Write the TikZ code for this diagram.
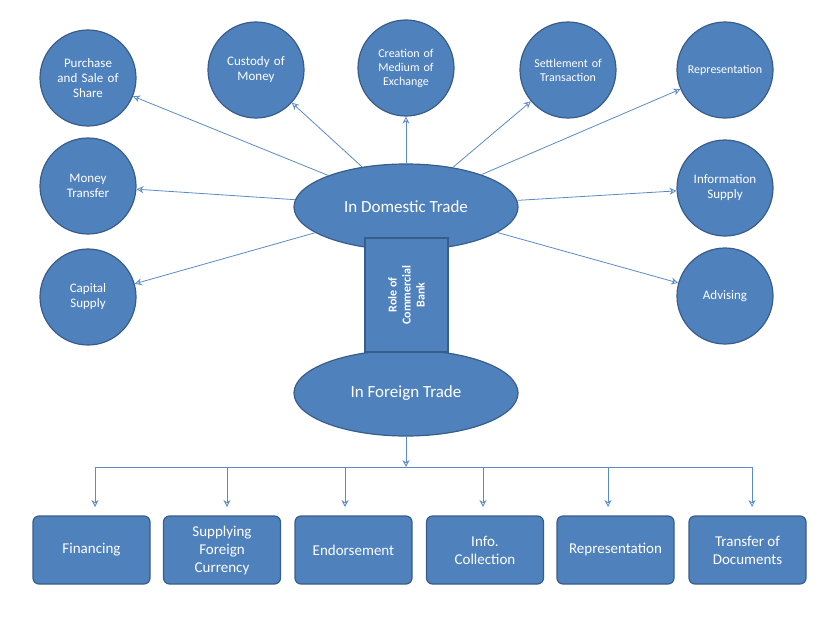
\documentclass[tikz,border=0pt]{standalone}
\usepackage{fontspec}
\setmainfont{Carlito}
\usetikzlibrary{arrows.meta}
\definecolor{fillb}{HTML}{4F81BD}
\definecolor{edgeb}{HTML}{385D8A}
\definecolor{lineb}{HTML}{5B8BC6}
\begin{document}
\begin{tikzpicture}[x=1pt,y=-1pt,
  circ/.style={circle,fill=fillb,draw=edgeb,line width=1.2pt,minimum size=96pt,inner sep=0pt,text=white,font=\fontsize{13}{15}\selectfont,align=center,text width=80pt},
  ell/.style={ellipse,fill=fillb,draw=edgeb,line width=1.2pt,minimum width=224pt,minimum height=86pt,text=white,font=\fontsize{17}{19}\selectfont},
  bx/.style={rectangle,rounded corners=6pt,fill=fillb,draw=edgeb,line width=1.2pt,minimum width=117pt,minimum height=68pt,inner sep=2pt,text=white,font=\fontsize{15}{18}\selectfont,align=center},
  arr/.style={draw=lineb,line width=0.8pt,-{Stealth[length=7pt,width=7pt,open]}}]
\useasboundingbox (0,0) rectangle (826,618);
\usetikzlibrary{shapes.geometric}
\node[circ] (c1) at (88,78) {Purchase\\and Sale of\\Share};
\node[circ] (c2) at (256,70) {Custody of\\Money};
\node[circ,font=\fontsize{12}{14}\selectfont] (c3) at (406,68) {Creation of\\Medium of\\Exchange};
\node[circ,font=\fontsize{12}{14}\selectfont] (c4) at (568,70) {Settlement of\\Transaction};
\node[circ,font=\fontsize{12}{14}\selectfont] (c5) at (725,70) {Representation};
\node[circ] (c6) at (88,186) {Money\\Transfer};
\node[circ] (c7) at (725,188) {Information\\Supply};
\node[circ] (c8) at (88,297) {Capital\\Supply};
\node[circ] (c9) at (725,296) {Advising};
\node[ell] (dom) at (406,207) {In Domestic Trade};
\node[ell] (for) at (406,393) {In Foreign Trade};
\node[rectangle,fill=fillb,draw=edgeb,line width=1.2pt,minimum width=83pt,minimum height=114pt,inner sep=0pt] (role) at (406.5,295) {};
\node[rotate=90,text=white,font=\bfseries\fontsize{12}{14}\selectfont,align=center] (rolet) at (role.center) {Role of\\Commercial\\Bank};
\foreach \c in {c1,c2,c3,c4,c5,c6,c7,c8,c9} \draw[arr] (dom) -- (\c);
\node[bx] (b1) at (91.5,550) {Financing};
\node[bx] (b2) at (222,550) {Supplying\\Foreign\\Currency};
\node[bx] (b3) at (353.5,550) {Endorsement};
\node[bx] (b4) at (485,550) {Info.\\Collection};
\node[bx] (b5) at (615.5,550) {Representation};
\node[bx] (b6) at (747.5,550) {Transfer of\\Documents};
\coordinate (j) at (406,467);
\draw[arr] (for) -- (j);
\draw[draw=lineb,line width=0.8pt] (95,467) -- (752,467);
\foreach \b/\x in {b1/95,b2/227,b3/345,b4/483,b5/608,b6/752}
  \draw[arr] (\x,467) -- (\x,507);
\end{tikzpicture}
\end{document}
